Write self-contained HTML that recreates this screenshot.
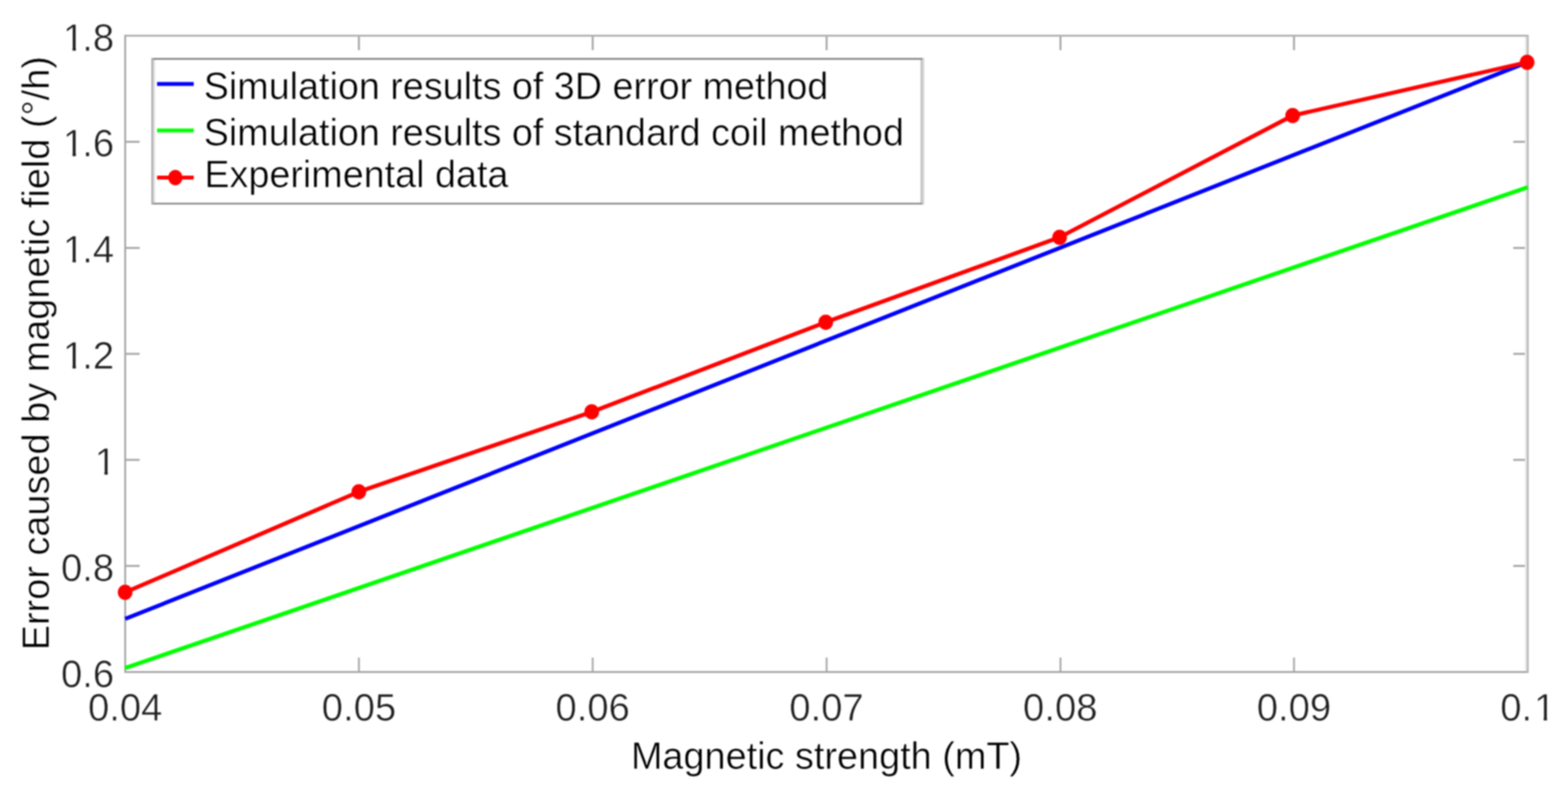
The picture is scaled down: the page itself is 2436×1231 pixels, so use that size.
<!DOCTYPE html><html><head><meta charset="utf-8"><title>Magnetic field error plot</title><style>html,body{margin:0;padding:0;background:#fff;overflow:hidden}svg{display:block;filter:blur(0.9px)}text{font-family:"Liberation Sans",Arial,Helvetica,sans-serif;font-size:58.6px;stroke:#fff;stroke-width:0.7px}.t{font-size:59.4px;fill:#1e1e1e}</style></head><body>
<svg width="2436" height="1231" viewBox="0 0 2436 1231">
<rect width="2436" height="1231" fill="#fff"/>
<rect x="193.00" y="54.00" width="2182.00" height="3.00" fill="#b0b0b0"/>
<rect x="193.00" y="1043.00" width="2179.00" height="3.00" fill="#a6a6a6"/>
<rect x="193.00" y="54.00" width="3.00" height="992.00" fill="#a8a8a8"/>
<rect x="2372.00" y="54.00" width="3.00" height="992.00" fill="#b8b8b8"/>
<rect x="2369.00" y="57.00" width="3.00" height="986.00" fill="#eaeaea"/>
<rect x="556.10" y="1022.00" width="3.00" height="21.00" fill="#acacac"/>
<rect x="556.10" y="57.00" width="3.00" height="21.00" fill="#a6a6a6"/>
<rect x="919.30" y="1022.00" width="3.00" height="21.00" fill="#acacac"/>
<rect x="919.30" y="57.00" width="3.00" height="21.00" fill="#a6a6a6"/>
<rect x="1282.70" y="1022.00" width="3.00" height="21.00" fill="#acacac"/>
<rect x="1282.70" y="57.00" width="3.00" height="21.00" fill="#a6a6a6"/>
<rect x="1646.00" y="1022.00" width="3.00" height="21.00" fill="#acacac"/>
<rect x="1646.00" y="57.00" width="3.00" height="21.00" fill="#a6a6a6"/>
<rect x="2008.80" y="1022.00" width="3.00" height="21.00" fill="#acacac"/>
<rect x="2008.80" y="57.00" width="3.00" height="21.00" fill="#a6a6a6"/>
<rect x="196.00" y="218.90" width="21.00" height="3.00" fill="#a6a6a6"/>
<rect x="2351.00" y="218.90" width="18.00" height="3.00" fill="#a3a3a3"/>
<rect x="196.00" y="383.90" width="21.00" height="3.00" fill="#a6a6a6"/>
<rect x="2351.00" y="383.90" width="18.00" height="3.00" fill="#a3a3a3"/>
<rect x="196.00" y="548.50" width="21.00" height="3.00" fill="#a6a6a6"/>
<rect x="2351.00" y="548.50" width="18.00" height="3.00" fill="#a3a3a3"/>
<rect x="196.00" y="713.30" width="21.00" height="3.00" fill="#a6a6a6"/>
<rect x="2351.00" y="713.30" width="18.00" height="3.00" fill="#a3a3a3"/>
<rect x="196.00" y="878.10" width="21.00" height="3.00" fill="#a6a6a6"/>
<rect x="2351.00" y="878.10" width="18.00" height="3.00" fill="#a3a3a3"/>
<polyline points="194.50,961.88 2373.50,96.51" stroke="#0000ff" stroke-width="6.3" fill="none"/>
<polyline points="194.50,1038.28 2373.50,291.01" stroke="#00ff00" stroke-width="6.3" fill="none"/>
<polyline points="194.40,920.70 557.50,764.30 919.30,640.20 1282.90,500.80 1646.20,368.80 2008.20,179.60 2372.50,96.80" stroke="#ff0000" stroke-width="6.3" fill="none" stroke-linejoin="round"/>
<ellipse cx="194.40" cy="920.70" rx="11.4" ry="11.9" fill="#ff0000"/>
<ellipse cx="557.50" cy="764.30" rx="11.4" ry="11.9" fill="#ff0000"/>
<ellipse cx="919.30" cy="640.20" rx="11.4" ry="11.9" fill="#ff0000"/>
<ellipse cx="1282.90" cy="500.80" rx="11.4" ry="11.9" fill="#ff0000"/>
<ellipse cx="1646.20" cy="368.80" rx="11.4" ry="11.9" fill="#ff0000"/>
<ellipse cx="2008.20" cy="179.60" rx="11.4" ry="11.9" fill="#ff0000"/>
<ellipse cx="2372.50" cy="96.80" rx="11.4" ry="11.9" fill="#ff0000"/>
<text class="t" x="136.70 169.73 186.23 219.27" y="1119.60">0.04</text>
<text class="t" x="499.86 532.90 549.40 582.44" y="1119.60">0.05</text>
<text class="t" x="863.03 896.06 912.57 945.60" y="1119.60">0.06</text>
<text class="t" x="1226.20 1259.23 1275.73 1308.77" y="1119.60">0.07</text>
<text class="t" x="1589.36 1622.40 1638.90 1671.94" y="1119.60">0.08</text>
<text class="t" x="1952.53 1985.56 2002.07 2035.10" y="1119.60">0.09</text>
<text class="t" x="2330.71 2363.75 2383.25" y="1119.60">0.1</text>
<text class="t" x="94.73 127.76 144.26" y="1067.60">0.6</text>
<text class="t" x="94.73 127.76 144.26" y="902.77">0.8</text>
<text class="t" x="147.26" y="737.93">1</text>
<text class="t" x="97.73 127.76 144.26" y="573.10">1.2</text>
<text class="t" x="97.73 127.76 144.26" y="408.27">1.4</text>
<text class="t" x="97.73 127.76 144.26" y="243.43">1.6</text>
<text class="t" x="97.73 127.76 144.26" y="78.60">1.8</text>
<rect x="2386.78" y="1114.56" width="11.46" height="6.24" fill="#fff"/>
<rect x="2403.39" y="1114.56" width="11.00" height="6.24" fill="#fff"/>
<rect x="150.79" y="732.90" width="11.46" height="6.24" fill="#fff"/>
<rect x="167.40" y="732.90" width="11.00" height="6.24" fill="#fff"/>
<rect x="101.25" y="568.06" width="11.46" height="6.24" fill="#fff"/>
<rect x="117.86" y="568.06" width="11.00" height="6.24" fill="#fff"/>
<rect x="101.25" y="403.23" width="11.46" height="6.24" fill="#fff"/>
<rect x="117.86" y="403.23" width="11.00" height="6.24" fill="#fff"/>
<rect x="101.25" y="238.40" width="11.46" height="6.24" fill="#fff"/>
<rect x="117.86" y="238.40" width="11.00" height="6.24" fill="#fff"/>
<rect x="101.25" y="73.56" width="11.46" height="6.24" fill="#fff"/>
<rect x="117.86" y="73.56" width="11.00" height="6.24" fill="#fff"/>
<text x="1284.0" y="1194.5" text-anchor="middle" fill="#000" style="font-size:58.8px">Magnetic strength (mT)</text>
<text transform="translate(75.5 549) rotate(-90)" x="0" y="0" text-anchor="middle" fill="#000" style="font-size:58.9px">Error caused by magnetic field (°/h)</text>
<rect x="235.00" y="90.00" width="1198.00" height="3.00" fill="#8c8c8c"/>
<rect x="235.00" y="315.00" width="1198.00" height="3.00" fill="#959595"/>
<rect x="235.00" y="90.00" width="3.00" height="228.00" fill="#b0b0b0"/>
<rect x="238.00" y="93.00" width="3.00" height="222.00" fill="#e0e0e0"/>
<rect x="1430.00" y="93.00" width="3.00" height="222.00" fill="#c4c4c4"/>
<rect x="1433.00" y="90.00" width="3.00" height="228.00" fill="#d6d6d6"/>
<path d="M244 130.5H301" stroke="#0000ff" stroke-width="6"/>
<path d="M244 202.7H301" stroke="#00ff00" stroke-width="6"/>
<path d="M244 276H301" stroke="#ff0000" stroke-width="6"/>
<ellipse cx="272.4" cy="276" rx="11" ry="12" fill="#ff0000"/>
<text x="316.5" y="153.5" fill="#000">Simulation results of 3D error method</text>
<text x="316.5" y="225.5" fill="#000">Simulation results of standard coil method</text>
<text x="317.5" y="290.5" fill="#000">Experimental data</text>
</svg></body></html>
